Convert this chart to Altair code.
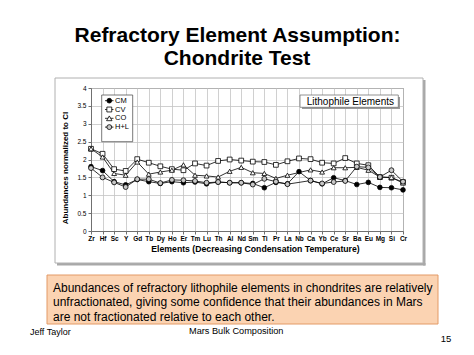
import altair as alt
import pandas as pd

FONT = "Liberation Sans"

elements = ["Zr", "Hf", "Sc", "Y", "Gd", "Tb", "Dy", "Ho", "Er", "Tm", "Lu", "Th", "Al", "Nd",
            "Sm", "Ti", "Pr", "La", "Nb", "Ca", "Yb", "Ce", "Sr", "Ba", "Eu", "Mg", "Si", "Cr"]
series_names = ["CM", "CV", "CO", "H+L"]

cm = [1.80, 1.69, 1.38, 1.29, 1.44, 1.38, 1.33, 1.38, 1.35, 1.37, 1.32, 1.37, 1.35, 1.35,
      1.33, 1.21, 1.36, 1.32, 1.66, 1.41, 1.32, 1.49, 1.41, 1.30, 1.36, 1.22, 1.21, 1.15]
cv = [2.30, 2.16, 1.73, 1.68, 2.01, 1.91, 1.81, 1.73, 1.70, 1.89, 1.83, 1.96, 2.00, 1.97,
      1.94, 1.93, 1.85, 1.95, 2.03, 2.01, 1.91, 1.89, 2.04, 1.89, 1.84, 1.51, 1.49, 1.37]
co = [2.30, 2.07, 1.61, 1.56, 1.93, 1.59, 1.65, 1.70, 1.85, 1.56, 1.54, 1.51, 1.67, 1.78,
      1.63, 1.61, 1.47, 1.56, None, 1.71, 1.65, 1.77, 1.77, 1.78, 1.70, 1.51, 1.50, 1.34]
hl = [1.76, 1.50, 1.36, 1.23, 1.45, 1.45, 1.34, 1.43, 1.42, 1.40, 1.35, 1.37, 1.35, 1.35,
      1.30, 1.46, 1.38, 1.31, None, 1.41, 1.33, 1.37, 1.40, 1.80, 1.78, 1.51, 1.70, 1.38]

y_ticks = [0, 0.5, 1, 1.5, 2, 2.5, 3, 3.5, 4]

shapes = ["circle", "square", "triangle-up", "circle"]
fills = ["black", "white", "white", "#c8c8c8"]
sizes = [22, 24, 30, 24]

title_lines = ["Refractory Element Assumption:", "Chondrite Test"]
x_title = "Elements (Decreasing Condensation Temperature)"
y_title = "Abundances normalized to CI"
box_label = "Lithophile Elements"
body_lines = ["Abundances of refractory lithophile elements in chondrites are relatively",
              "unfractionated, giving some confidence that their abundances in Mars",
              "are not fractionated relative to each other."]
footer_left = "Jeff Taylor"
footer_mid = "Mars Bulk Composition"
footer_page = "15"

rows = []
for name, vals in zip(series_names, [cm, cv, co, hl]):
    for el, v in zip(elements, vals):
        if v is not None:
            rows.append({"element": el, "series": name, "value": v})
df = pd.DataFrame(rows)

W, H = 312, 143

x_enc = alt.X("element:N", sort=elements,
              scale=alt.Scale(type="point", padding=0),
              axis=alt.Axis(title=x_title, labelAngle=0, labelFontSize=6.5,
                            labelFontWeight="bold", labelPadding=1, tickSize=3,
                            titleFontSize=8.7, titleFontWeight="bold", titlePadding=3,
                            titleX=164, grid=True))
y_enc = alt.Y("value:Q", scale=alt.Scale(domain=[0, 4], nice=False),
              axis=alt.Axis(title=y_title, values=y_ticks, format="~g", labelFontSize=6.5,
                            labelPadding=2, tickSize=3, titleFontSize=8,
                            titleFontWeight="bold", titlePadding=7, titleY=79.5, grid=True))

lines = alt.Chart(df).mark_line(color="black", strokeWidth=0.8).encode(
    x=x_enc, y=y_enc, detail="series:N")
points = alt.Chart(df).mark_point(filled=True, stroke="black", strokeWidth=0.8, opacity=1).encode(
    x=x_enc, y=y_enc,
    shape=alt.Shape("series:N", scale=alt.Scale(domain=series_names, range=shapes), legend=None),
    fill=alt.Fill("series:N", scale=alt.Scale(domain=series_names, range=fills), legend=None),
    size=alt.Size("series:N", scale=alt.Scale(domain=series_names, range=sizes), legend=None),
)

dummy = alt.Data(values=[{"k": 1}])


def rect(x1, x2, y1, y2, **kw):
    return alt.Chart(dummy).mark_rect(**kw).encode(
        x=alt.value(x1), x2=alt.value(x2), y=alt.value(y1), y2=alt.value(y2))


def text(s, x, y, **kw):
    return alt.Chart(dummy).mark_text(text=s, font=FONT, **kw).encode(
        x=alt.value(x), y=alt.value(y))


layers = []
# outer chart frame (fill none so the grid is not hidden)
layers.append(rect(332, 334.5, -8, 177.5, fill="#a8a8a8"))
layers.append(rect(-34, 334.5, 175, 177.5, fill="#a8a8a8"))
layers.append(rect(-36, 332, -10, 175, fill=None, filled=False, stroke="#b0b0b0", strokeWidth=1))

layers += [lines, points]

# legend box
layers.append(rect(10.7, 41.7, 7, 53.7, fill="white", stroke="#555555", strokeWidth=0.8))
for i, (name, shp, fl, sz) in enumerate(zip(series_names, shapes, fills, sizes)):
    yy = 12.7 + i * 8.8
    layers.append(alt.Chart(dummy).mark_rule(color="black", strokeWidth=0.8).encode(
        x=alt.value(14), x2=alt.value(22.5), y=alt.value(yy)))
    layers.append(alt.Chart(dummy).mark_point(shape=shp, fill=fl, filled=True, stroke="black",
                                              strokeWidth=0.8, size=sz, opacity=1).encode(
        x=alt.value(18.3), y=alt.value(yy)))
    layers.append(text(name, 24, yy, fontSize=7.5, align="left", baseline="middle"))

# lithophile label box
layers.append(rect(211, 309, 9, 21, fill="#9a9a9a"))
layers.append(rect(209, 307.3, 7, 19.3, fill="white", stroke="#777777", strokeWidth=0.8))
layers.append(text(box_label, 215.7, 16.5, fontSize=10, align="left", baseline="alphabetic"))

# slide title
layers.append(text(title_lines[0], 146.5, -46, fontSize=21, fontWeight="bold",
                   align="center", baseline="alphabetic"))
layers.append(text(title_lines[1], 146, -23, fontSize=21, fontWeight="bold",
                   align="center", baseline="alphabetic"))

# orange note box
layers.append(rect(-44, 347, 187, 236, fill="#fbd3b2", stroke="#e39a66", strokeWidth=1))
for i, ln in enumerate(body_lines):
    layers.append(text(ln, -38, 203.5 + i * 14.5, fontSize=12, align="left",
                       baseline="alphabetic"))

# footer
layers.append(text(footer_left, -61, 246.5, fontSize=9, align="left", baseline="alphabetic"))
layers.append(text(footer_mid, 98, 246, fontSize=9.2, align="left", baseline="alphabetic"))
layers.append(text(footer_page, 349.7, 253.5, fontSize=9.5, align="left", baseline="alphabetic"))

chart = alt.layer(*layers).properties(
    width=W, height=H,
    autosize=alt.AutoSizeParams(type="none"),
    padding={"left": 91, "top": 88, "right": 71, "bottom": 124},
    background="white",
).configure(font=FONT).configure_view(
    stroke="#707070", strokeWidth=1
).configure_axis(
    gridColor="#c4c4c4", gridWidth=0.8, domainColor="#707070", tickColor="#707070",
    labelColor="black", titleColor="black", labelFont=FONT, titleFont=FONT
)

chart.save("out.html", embed_options={"renderer": "svg", "actions": False})
